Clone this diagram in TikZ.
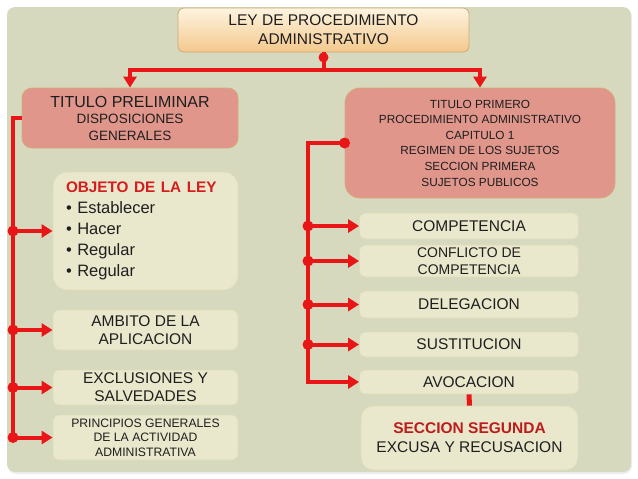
\documentclass[tikz,border=0pt]{standalone}
\usepackage{fontspec}
\setmainfont{Liberation Sans}
\usetikzlibrary{arrows.meta}

\definecolor{panelbg}{RGB}{214,217,190}
\definecolor{palefill}{RGB}{233,232,204}
\definecolor{paleedge}{RGB}{222,220,186}
\definecolor{pinkfill}{RGB}{225,150,140}
\definecolor{pinkedge}{RGB}{214,168,120}
\definecolor{topfill}{RGB}{253,244,224}
\definecolor{topshade}{RGB}{244,200,140}
\definecolor{linkred}{RGB}{232,22,22}
\definecolor{titlered}{RGB}{212,30,30}
\definecolor{darkred}{RGB}{188,28,28}
\definecolor{inkdark}{RGB}{30,30,30}

\begin{document}
\begin{tikzpicture}[
    x=1pt, y=-1pt,
    palebox/.style={draw=paleedge, fill=palefill, line width=0.8pt, rounded corners=6pt,
        align=center, text=inkdark, inner sep=1pt, minimum width=185pt,
        font=\fontsize{15.5}{18}\selectfont},
    rightbox/.style={palebox, minimum width=219pt},
    pinkbox/.style={draw=pinkedge, fill=pinkfill, line width=0.8pt, rounded corners=10pt,
        align=center, text=inkdark, inner sep=1pt},
    link/.style={draw=linkred, line width=4pt},
    arr/.style={link, -{Triangle[width=13pt,length=11pt]}},
    dot/.style={fill=linkred}
]
\useasboundingbox (0,0) rectangle (638,479);

% Background panel
\fill[black!7, rounded corners=8pt] (8,9) rectangle (632,474);
\fill[panelbg, rounded corners=8pt] (7,7) rectangle (631,472);

% Top
\node[draw=topshade!85!black, line width=0.8pt, top color=topfill, bottom color=topshade,
    rounded corners=6pt, minimum width=291pt, minimum height=44pt, align=center, text=inkdark,
    font=\fontsize{15.5}{19}\selectfont] (ley) at (323.5,30) {LEY DE PROCEDIMIENTO\\ADMINISTRATIVO};

% Titles
\node[pinkbox, minimum width=216pt, minimum height=60pt, font=\fontsize{13.5}{16.5}\selectfont] (prelim) at (130,118)
    {{\fontsize{16}{16.5}\selectfont TITULO PRELIMINAR}\\DISPOSICIONES\\GENERALES};
\node[pinkbox, rounded corners=15pt, minimum width=270pt, minimum height=110pt,
    font=\fontsize{11.8}{15.6}\selectfont] (primero) at (480,143)
    {TITULO PRIMERO\\PROCEDIMIENTO ADMINISTRATIVO\\CAPITULO 1\\REGIMEN DE LOS SUJETOS\\SECCION PRIMERA\\SUJETOS PUBLICOS};

% Left column
\node[palebox, rounded corners=14pt, minimum height=118pt, text width=159pt, align=left,
    font=\fontsize{16.5}{21}\selectfont] (objeto) at (145.5,231)
    {{\color{titlered}\bfseries\fontsize{15.3}{21}\selectfont OBJETO DE LA LEY}\\
     \textbullet\ Establecer\\ \textbullet\ Hacer\\ \textbullet\ Regular\\ \textbullet\ Regular};
\node[palebox, minimum height=40pt] (ambito) at (145.5,330) {AMBITO DE LA\\APLICACION};
\node[palebox, minimum height=35pt] (exclusiones) at (145.5,387.5) {EXCLUSIONES Y\\SALVEDADES};
\node[palebox, minimum height=45pt, font=\fontsize{12.2}{14.5}\selectfont] (principios) at (145.5,437.5)
    {PRINCIPIOS GENERALES\\DE LA ACTIVIDAD\\ADMINISTRATIVA};

% Right column
\node[rightbox, minimum height=26pt] (competencia) at (469,226) {COMPETENCIA};
\node[rightbox, minimum height=32pt, font=\fontsize{14}{17}\selectfont] (conflicto) at (469,261) {CONFLICTO DE\\COMPETENCIA};
\node[rightbox, minimum height=27pt] (delegacion) at (469,304.5) {DELEGACION};
\node[rightbox, minimum height=25pt] (sustitucion) at (469,344.5) {SUSTITUCION};
\node[rightbox, minimum height=24pt] (avocacion) at (469,382) {AVOCACION};
\node[rightbox, rounded corners=12pt, minimum width=217pt, minimum height=64pt,
    font=\fontsize{15.5}{19}\selectfont] (segunda) at (469.5,438)
    {{\color{darkred}\bfseries SECCION SEGUNDA}\\EXCUSA Y RECUSACION};

% Top split
\coordinate (split) at (323.5,70);
\draw[link] (ley.south) -- (split);
\draw[arr] (split) -| (prelim.north);
\draw[arr] (split) -| (primero.north);
\fill[dot] ([yshift=-5pt]ley.south) circle (5pt);

% Left trunk
\coordinate (ltrunk) at (13,118);
\draw[link] (prelim.west) -- (ltrunk) -- (ltrunk |- principios.west);
\foreach \n in {objeto,ambito,exclusiones,principios} {
    \draw[arr] (ltrunk |- \n.west) -- (\n.west);
    \fill[dot] (ltrunk |- \n.west) circle (5.5pt);
}

% Right trunk
\coordinate (rtrunk) at (308,143);
\draw[arr] (primero.west) -- (rtrunk) |- (avocacion.west);
\fill[dot] (primero.west) circle (5.5pt);
\foreach \n in {competencia,conflicto,delegacion,sustitucion} {
    \draw[arr] (rtrunk |- \n.west) -- (\n.west);
    \fill[dot] (rtrunk |- \n.west) circle (5.5pt);
}
\draw[link, line width=5pt] (avocacion.south) -- (segunda.north);

\end{tikzpicture}
\end{document}
